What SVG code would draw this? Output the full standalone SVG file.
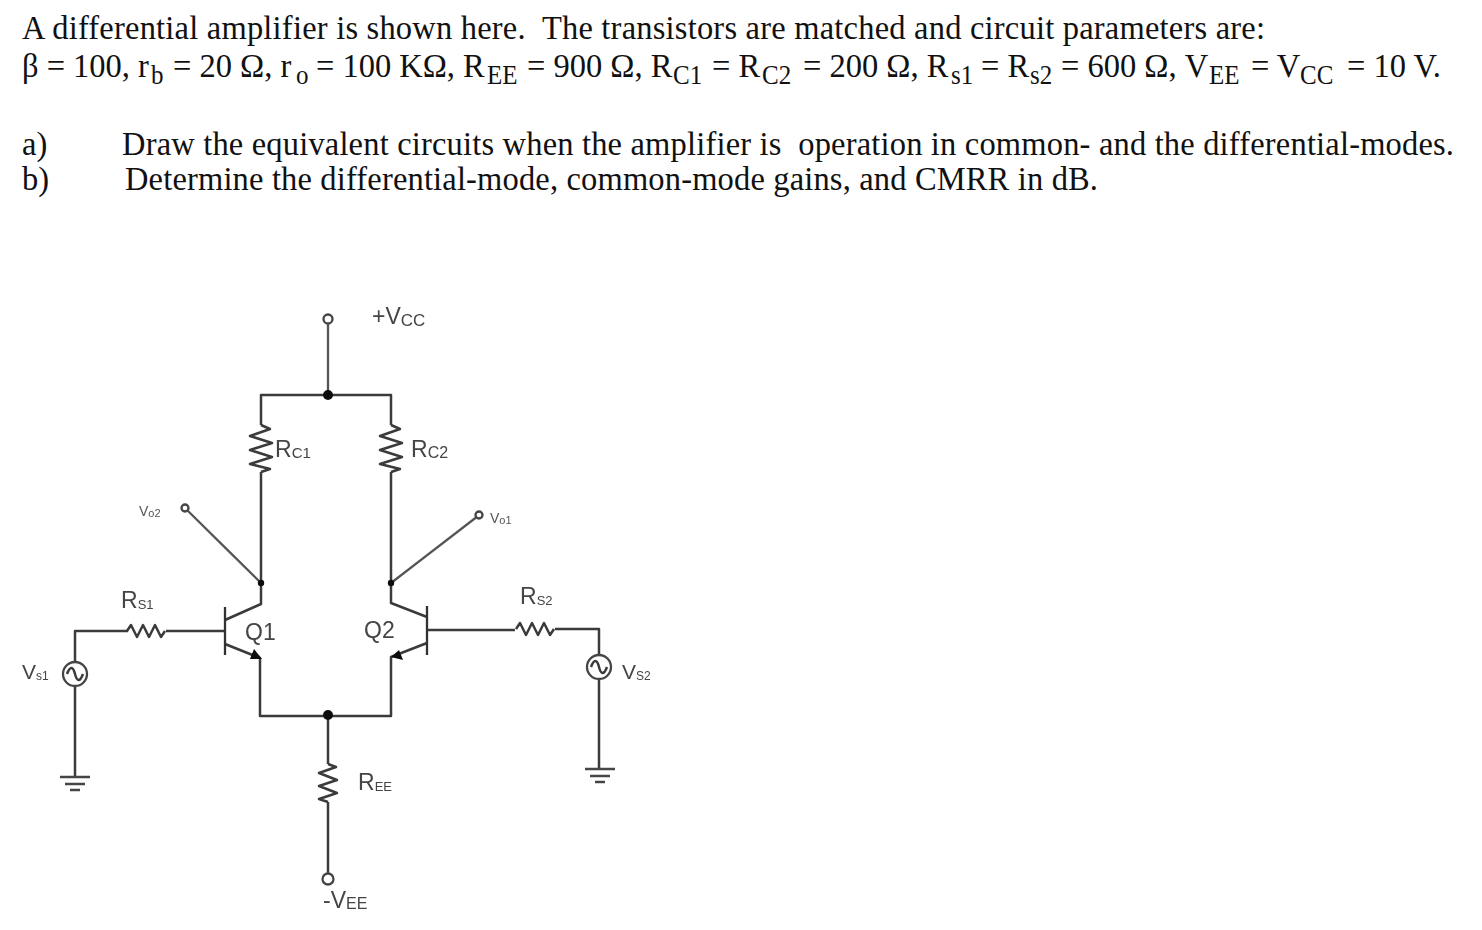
<svg xmlns="http://www.w3.org/2000/svg" width="1482" height="930" viewBox="0 0 1482 930">
<style>
.t{font-family:"Liberation Serif","Times New Roman",serif;font-size:32.5px;fill:#111}
.s{font-family:"Liberation Serif","Times New Roman",serif;font-size:25px;fill:#111}
.l{font-family:"Liberation Sans",Arial,sans-serif;fill:#444;font-size:23px}
.b{font-size:15px}
.c{font-size:13px}
.v{font-family:"Liberation Sans",Arial,sans-serif;fill:#555;font-size:14px}
.u{font-size:11px}
.w{fill:none;stroke:#3a3a3a;stroke-width:2.5;stroke-linejoin:round}
.g{fill:none;stroke:#555;stroke-width:2.3}
.o{fill:#fff;stroke:#444;stroke-width:2.3}
.d{fill:#111}
</style>
<defs>
<filter id="b" x="-5%" y="-5%" width="110%" height="110%"><feGaussianBlur stdDeviation="0.6"/></filter>
<path id="rv" class="w" d="M0 0 L9 4 L-11 11 L11 18 L-11 25 L11 32 L-11 39 L9 44 L0 47"/>
<path id="rr" class="w" d="M0 0 L8 3 L-9 9 L9 16 L-9 22 L9 29 L-9 35 L0 38"/>
<path id="rh" class="w" d="M0 0 L4 -6 L10 6 L16 -6 L22 6 L28 -6 L34 6 L38 0"/>
<g id="src"><circle r="12" class="o"/><path class="w" d="M-8 0 C-5 -8 -2 -8 0 0 C2 8 5 8 8 0"/></g>
<g id="gnd"><path d="M-15 0H15M-10 7H10M-5 13H5" stroke="#444" stroke-width="2.6" fill="none"/></g>
</defs>
<rect width="1482" height="930" fill="#fff"/>
<g id="problem-text" transform="scale(1 1.06)">
<text class="t" x="22" y="36.8" textLength="1243" lengthAdjust="spacing" xml:space="preserve">A differential amplifier is shown here.  The transistors are matched and circuit parameters are:</text>
<text class="t" x="22" y="72.6">β = 100, r</text><text class="s" x="151" y="78.8">b</text>
<text class="t" x="173" y="72.6">= 20 Ω, r</text><text class="s" x="296" y="78.8">o</text>
<text class="t" x="316" y="72.6">= 100 KΩ, R</text><text class="s" x="487" y="78.8">EE</text>
<text class="t" x="527" y="72.6">= 900 Ω, R</text><text class="s" x="673" y="78.8">C1</text>
<text class="t" x="712" y="72.6">= R</text><text class="s" x="762" y="78.8">C2</text>
<text class="t" x="803" y="72.6">= 200 Ω, R</text><text class="s" x="951" y="78.8">s1</text>
<text class="t" x="981" y="72.6">= R</text><text class="s" x="1030" y="78.8">s2</text>
<text class="t" x="1061" y="72.6">= 600 Ω, V</text><text class="s" x="1209" y="78.8">EE</text>
<text class="t" x="1251" y="72.6">= V</text><text class="s" x="1300" y="78.8">CC</text>
<text class="t" x="1347" y="72.6">= 10 V.</text>
<text class="t" x="22" y="146">a)</text>
<text class="t" x="122" y="146" textLength="1332" lengthAdjust="spacing" xml:space="preserve">Draw the equivalent circuits when the amplifier is  operation in common- and the differential-modes.</text>
<text class="t" x="22" y="178.8">b)</text>
<text class="t" x="125" y="178.8" textLength="973" lengthAdjust="spacing">Determine the differential-mode, common-mode gains, and CMRR in dB.</text>
</g>
<g filter="url(#b)">
<g id="connectors">
<path class="g" d="M328 324V395"/>
<path class="w" d="M261 425V395H391V425M261 472V604L225 620M391 472V603L427 617"/>
<path class="g" d="M261 583L187 510M391 583L478 516"/>
<path class="w" d="M75 662V631H128M166 631H225M225 644L260 658V716H391V657L427 643M427 630H515M555 629H599V655M75 686V777M599 679V769M328 716V764M328 802V873"/>
</g>
<g id="RC1"><use href="#rv" x="261" y="425"/><text class="l" x="275" y="457">R<tspan class="b" dy="1">C1</tspan></text></g>
<g id="RC2"><use href="#rv" x="391" y="425"/><text class="l" x="411" y="457">R<tspan class="b" dy="1" style="font-size:16px">C2</tspan></text></g>
<g id="REE"><use href="#rr" x="328" y="764"/><text class="l" x="358" y="790">R<tspan class="c" dy="1">EE</tspan></text></g>
<g id="RS1"><use href="#rh" x="127" y="631"/><text class="l" x="121" y="608">R<tspan class="c" dy="1">S1</tspan></text></g>
<g id="RS2"><use href="#rh" x="516" y="629"/><text class="l" x="520" y="604">R<tspan class="c" dy="1">S2</tspan></text></g>
<g id="Q1"><path stroke="#333" stroke-width="2.3" d="M225 607V655"/><path class="d" d="M262 659L250 659L254 649Z"/><text class="l" x="245" y="640">Q1</text></g>
<g id="Q2"><path stroke="#333" stroke-width="2.3" d="M427 606V655"/><path class="d" d="M391 657L403 660L399 650Z"/><text class="l" x="364" y="638">Q2</text></g>
<g id="Vs1"><use href="#src" x="75" y="674"/><text class="l" x="22" y="679" style="font-size:21px">V<tspan class="u" dy="1" style="font-size:12px">s1</tspan></text></g>
<g id="Vs2"><use href="#src" x="599" y="667"/><text class="l" x="622" y="679" style="font-size:21px">V<tspan dy="1" style="font-size:12px">S2</tspan></text></g>
<g id="gnd1"><use href="#gnd" x="75" y="777"/></g>
<g id="gnd2"><use href="#gnd" x="600" y="769"/></g>
<g id="Vcc"><circle cx="328" cy="319" r="4.5" class="o"/><circle cx="328" cy="395" r="5" class="d"/><text class="l" x="372" y="324">+V<tspan dy="2" style="font-size:17px">CC</tspan></text></g>
<g id="Vee"><circle cx="328" cy="879" r="5.5" class="o"/><circle cx="328" cy="715" r="5" class="d"/><text class="l" x="323" y="908">-V<tspan dy="1" style="font-size:16px">EE</tspan></text></g>
<g id="Vo2"><circle cx="185" cy="508" r="3.5" class="o"/><circle cx="261" cy="583" r="3.2" class="d"/><text class="v" x="139" y="516">V<tspan class="u" dy="1">o2</tspan></text></g>
<g id="Vo1"><circle cx="479" cy="515" r="3.5" class="o"/><circle cx="391" cy="583" r="3.2" class="d"/><text class="v" x="490" y="523">V<tspan class="u" dy="1">o1</tspan></text></g>
</g>
</svg>
